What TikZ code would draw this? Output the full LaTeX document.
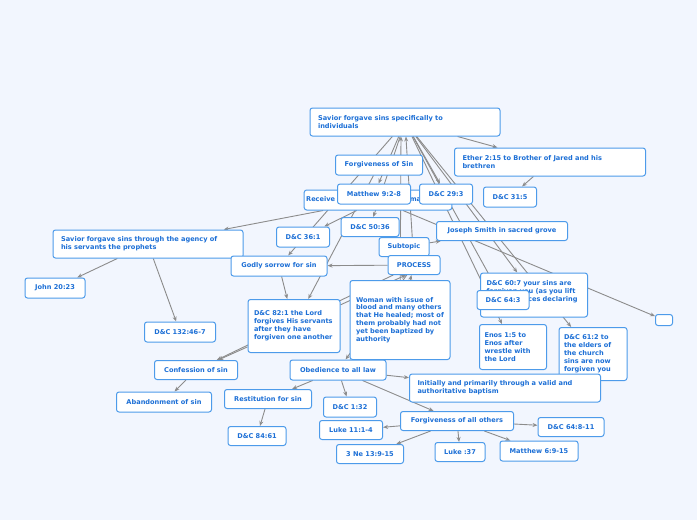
\documentclass[tikz,border=0pt]{standalone}
\usepackage{fontspec}
\setmainfont{DejaVu Sans}
\usetikzlibrary{backgrounds,arrows.meta}
\definecolor{bg}{HTML}{F2F6FE}
\definecolor{bd}{HTML}{4D9BEA}
\definecolor{tx}{HTML}{1C6FD6}
\definecolor{ln}{HTML}{8C8C8C}
\pgfdeclarelayer{back0}
\pgfsetlayers{back0,background,main}
\hyphenpenalty=10000
\exhyphenpenalty=10000
\tikzset{
 bx/.style={draw=bd,line width=1pt,fill=white,rounded corners=2.5pt,text=tx,font=\fontsize{6.6}{7.9}\selectfont\bfseries,inner sep=2pt},
 ml/.style={align=left,text width=#1},
 ed/.style={draw=ln,line width=0.9pt,-{Stealth[length=5pt,width=4pt]}}
}
\begin{document}
\begin{tikzpicture}[x=1pt,y=-1pt]
\begin{pgfonlayer}{back0}
\fill[bg] (0,0) rectangle (697,520);
\end{pgfonlayer}
\useasboundingbox (0,0) rectangle (697,520);
\newcommand\N[7]{\node[bx,minimum width=#4pt,minimum height=#5pt,#6] (#1) at (#2,#3) {#7};}
\N{top}{405}{122}{190}{28}{ml=174pt}{\parbox{135pt}{\raggedright Savior forgave sins specifically to individuals}}
\N{fos}{379}{165}{87}{20}{}{Forgiveness of Sin}
\N{eth}{550}{162}{191}{28}{ml=175pt}{\parbox{150pt}{\raggedright Ether 2:15 to Brother of Jared and his brethren}}
\N{rec}{378}{200}{144}{20}{}{Receive forgiveness by commandment}
\N{mat}{374}{194}{73}{20}{}{Matthew 9:2-8}
\N{d29}{446}{194}{53}{20}{}{D\&C 29:3}
\N{d31}{510}{197}{53}{20}{}{D\&C 31:5}
\N{agy}{148}{244}{190}{28}{ml=174pt}{\parbox{162pt}{\raggedright Savior forgave sins through the agency of his servants the prophets}}
\N{d36}{303}{237}{53}{20}{}{D\&C 36:1}
\N{d50}{370}{227}{58}{19}{}{D\&C 50:36}
\N{jos}{502}{231}{131}{19}{}{Joseph Smith in sacred grove}
\N{sub}{404}{247}{50}{19}{}{Subtopic}
\N{god}{279}{266}{96}{20}{}{Godly sorrow for sin}
\N{pro}{414}{265}{52}{19}{}{PROCESS}
\N{joh}{55}{288}{60}{20}{}{John 20:23}
\N{d132}{180}{332}{71}{20}{}{D\&C 132:46-7}
\N{d82}{294}{326}{92}{53}{ml=80pt}{D\&C 82:1 the Lord forgives His servants after they have forgiven one another}
\N{wom}{400}{320}{100}{79}{ml=88pt}{Woman with issue of blood and many others that He healed; most of them probably had not yet been baptized by authority}
\N{d60}{534}{295}{107}{44}{ml=95pt}{D\&C 60:7 your sins are forgiven you (as you lift up your voices declaring his\ \ word)}
\N{d64}{503}{300}{52}{19}{}{D\&C 64:3}
\N{emp}{664}{320}{17}{11}{inner sep=0pt}{}
\N{eno}{513}{347}{67}{45}{ml=57pt}{Enos 1:5 to Enos after wrestle with the Lord}
\N{d61}{593}{354}{68}{53}{ml=58pt}{D\&C 61:2 to the elders of the church sins are now forgiven you}
\N{con}{196}{370}{83}{19}{}{Confession of sin}
\N{obe}{338}{370}{96}{20}{}{Obedience to all law}
\N{ini}{505}{388}{191}{28}{ml=175pt}{\parbox{170pt}{\raggedright Initially and primarily through a valid and authoritative baptism}}
\N{aba}{164}{402}{95}{20}{}{Abandonment of sin}
\N{res}{268}{399}{87}{19}{}{Restitution for sin}
\N{d1}{350}{407}{53}{20}{}{D\&C 1:32}
\N{d84}{257}{436}{58}{19}{}{D\&C 84:61}
\N{foa}{457}{421}{113}{19}{}{Forgiveness of all others}
\N{luk}{351}{430}{63}{19}{}{Luke 11:1-4}
\N{d648}{571}{427}{66}{19}{}{D\&C 64:8-11}
\N{ne}{370}{454}{67}{19}{}{3 Ne 13:9-15}
\N{l37}{460}{452}{50}{19}{}{Luke :37}
\N{m6}{539}{451}{78}{20}{}{Matthew 6:9-15}
\begin{scope}[on background layer]
\draw[ed] (top) -- (eth);
\draw[ed] (eth) -- (d31);
\draw[ed] (top) -- (mat);
\draw[ed] (top) -- (d29);
\draw[ed] (top) -- (d60);
\draw[ed] (top) -- (d64);
\draw[ed] (top) -- (eno);
\draw[ed] (top) -- (d61);
\draw[ed] (top) -- (d50);
\draw[ed] (pro) -- (top);
\draw[ed] (wom) -- ([xshift=-4pt]top.south);
\draw[ed] (d82) -- ([xshift=-8pt]pro.south);
\draw[ed] (wom) -- (pro);
\draw[ed] (top) -- (god);
\draw[ed] (fos) -- (d82);
\draw[ed] (rec) -- (agy);
\draw[ed] (rec) -- (d36);
\draw[ed] (rec) -- (emp);
\draw[ed] (agy) -- (joh);
\draw[ed] (agy) -- (d132);
\draw[ed] (sub) -- (jos);
\draw[ed] (pro) -- (god);
\draw[ed] (god) -- (d82);
\draw[ed] (d82) -- (con);
\draw[ed] (pro) -- (con);
\draw[ed] (con) -- (aba);
\draw[ed] (pro) -- (obe);
\draw[ed] (wom) -- (obe);
\draw[ed] (obe) -- (res);
\draw[ed] (obe) -- (d1);
\draw[ed] (obe) -- (ini);
\draw[ed] (obe) -- (foa);
\draw[ed] (res) -- (d84);
\draw[ed] (foa) -- (luk);
\draw[ed] (foa) -- (ne);
\draw[ed] (foa) -- (l37);
\draw[ed] (foa) -- (m6);
\draw[ed] (foa) -- (d648);
\end{scope}
\end{tikzpicture}
\end{document}
